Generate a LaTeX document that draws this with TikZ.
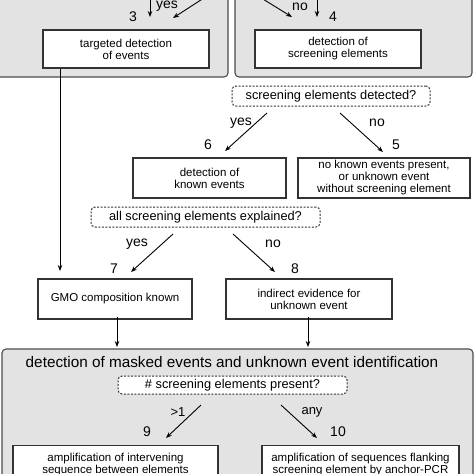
\documentclass[tikz,border=0pt]{standalone}
\usepackage{fontspec}
\setmainfont{Liberation Sans}
\usetikzlibrary{arrows.meta}
\begin{document}
\begin{tikzpicture}[x=1pt,y=-1pt,
  graybox/.style={draw=black!70,line width=1.1pt,fill=black!11,rounded corners=4pt},
  wbox/.style={draw=black!80,line width=1.1pt,fill=white,inner sep=0pt,align=center,
    font=\fontsize{11.5}{12}\selectfont},
  qbox/.style={draw=black!80,line width=1pt,dash pattern=on 2pt off 1.5pt,fill=white,
    rounded corners=4pt,inner sep=0pt,font=\fontsize{12.8}{14}\selectfont},
  lbl/.style={inner sep=0pt,font=\fontsize{14}{16}\selectfont},
  btext/.style={inner sep=0pt,align=center,font=\fontsize{11.5}{12}\selectfont},
  arr/.style={draw=black,line width=0.9pt,-{Stealth[length=6pt,width=4.5pt]}}]
\useasboundingbox (0,0) rectangle (474,474);
\clip (0,0) rectangle (474,474);
% gray panels
\draw[graybox] (-8,-10) rectangle (228,77);
\draw[graybox] (235,-10) rectangle (472,77);
\draw[graybox] (2,349) rectangle (473,500);
% top boxes
\node[wbox,minimum width=166pt,minimum height=38pt] (T) at (126,49) {targeted detection\\of events};
\node[wbox,minimum width=166pt,minimum height=38pt] (S) at (338,49) {detection of\\screening elements};
% top arrows
\coordinate (t1a) at (150,-4); \coordinate (t1b) at (150,17);
\coordinate (t2a) at (207,-4); \coordinate (t2b) at (173,18);
\coordinate (t3a) at (258,-4); \coordinate (t3b) at (292,17);
\coordinate (t4a) at (317,-4); \coordinate (t4b) at (317,17);
\draw[arr] (t1a) -- (t1b);
\draw[arr] (t2a) -- (t2b);
\draw[arr] (t3a) -- (t3b);
\draw[arr] (t4a) -- (t4b);
\node[lbl] (l3y) at (167,6.5) {yes};
\node[lbl] (l3) at (133,17) {3};
\node[lbl] (l4n) at (300,6.5) {no};
\node[lbl] (l4) at (333,17) {4};
% question 1
\node[qbox,minimum width=198pt,minimum height=20pt] (Q1) at (331,96) {screening elements detected?};
\coordinate (q1a) at (267,113); \coordinate (q1b) at (225,151);
\coordinate (q1c) at (340,113); \coordinate (q1d) at (383,152);
\draw[arr] (q1a) -- (q1b);
\draw[arr] (q1c) -- (q1d);
\node[lbl] (l6y) at (241,123) {yes};
\node[lbl] (l6) at (208,145) {6};
\node[lbl] (l5n) at (377,123) {no};
\node[lbl] (l5) at (396,145) {5};
\node[wbox,minimum width=153pt,minimum height=40pt] (K) at (209.5,178) {detection of\\known events};
\node[wbox,minimum width=172pt,minimum height=40pt] (N) at (384,178) {no known events present,\\or unknown event\\without screening element};
% question 2
\node[qbox,minimum width=229pt,minimum height=20pt] (Q2) at (205.5,217) {all screening elements explained?};
\coordinate (q2a) at (173,234); \coordinate (q2b) at (131,272);
\coordinate (q2c) at (233,234); \coordinate (q2d) at (275,272);
\draw[arr] (q2a) -- (q2b);
\draw[arr] (q2c) -- (q2d);
\node[lbl] (l7y) at (137,244) {yes};
\node[lbl] (l7) at (114,269) {7};
\node[lbl] (l8n) at (273,244) {no};
\node[lbl] (l8) at (295,269) {8};
\coordinate (tdown) at (60,271);
\draw[arr] (T.south -| tdown) -- (tdown);
\node[wbox,minimum width=154pt,minimum height=40pt] (G) at (115,299) {GMO composition known};
\node[wbox,minimum width=166pt,minimum height=40pt] (I) at (309,299) {indirect evidence for\\unknown event};
\coordinate (gd) at (117,347); \coordinate (id) at (308,347);
\draw[arr] ([yshift=3pt]G.south -| gd) -- (gd);
\draw[arr] ([yshift=3pt]I.south -| id) -- (id);
% bottom panel
\node[inner sep=0pt,font=\fontsize{15.3}{17}\selectfont] (title) at (232,362) {detection of masked events and unknown event identification};
\node[qbox,minimum width=229pt,minimum height=18pt] (Q3) at (232.5,385) {\# screening elements present?};
\coordinate (q3a) at (201,405); \coordinate (q3b) at (166,438);
\coordinate (q3c) at (281,405); \coordinate (q3d) at (317,438);
\draw[arr] (q3a) -- (q3b);
\draw[arr] (q3c) -- (q3d);
\node[lbl,font=\fontsize{13}{15}\selectfont] (l9g) at (178,412) {>1};
\node[lbl] (l9) at (147,432) {9};
\node[lbl,font=\fontsize{13}{15}\selectfont] (l10a) at (312,412) {any};
\node[lbl] (l10) at (338,432) {10};
\node[wbox,minimum width=205pt,minimum height=60pt,anchor=north] (A) at (115.5,445) {};
\node[wbox,minimum width=197pt,minimum height=60pt,anchor=north] (B) at (360.5,445) {};
\node[btext,anchor=north] (At) at ([yshift=-8pt]A.north) {amplification of intervening\\sequence between elements};
\node[btext,anchor=north] (Bt) at ([yshift=-8pt]B.north) {amplification of sequences flanking\\screening element by anchor-PCR};
\end{tikzpicture}
\end{document}
